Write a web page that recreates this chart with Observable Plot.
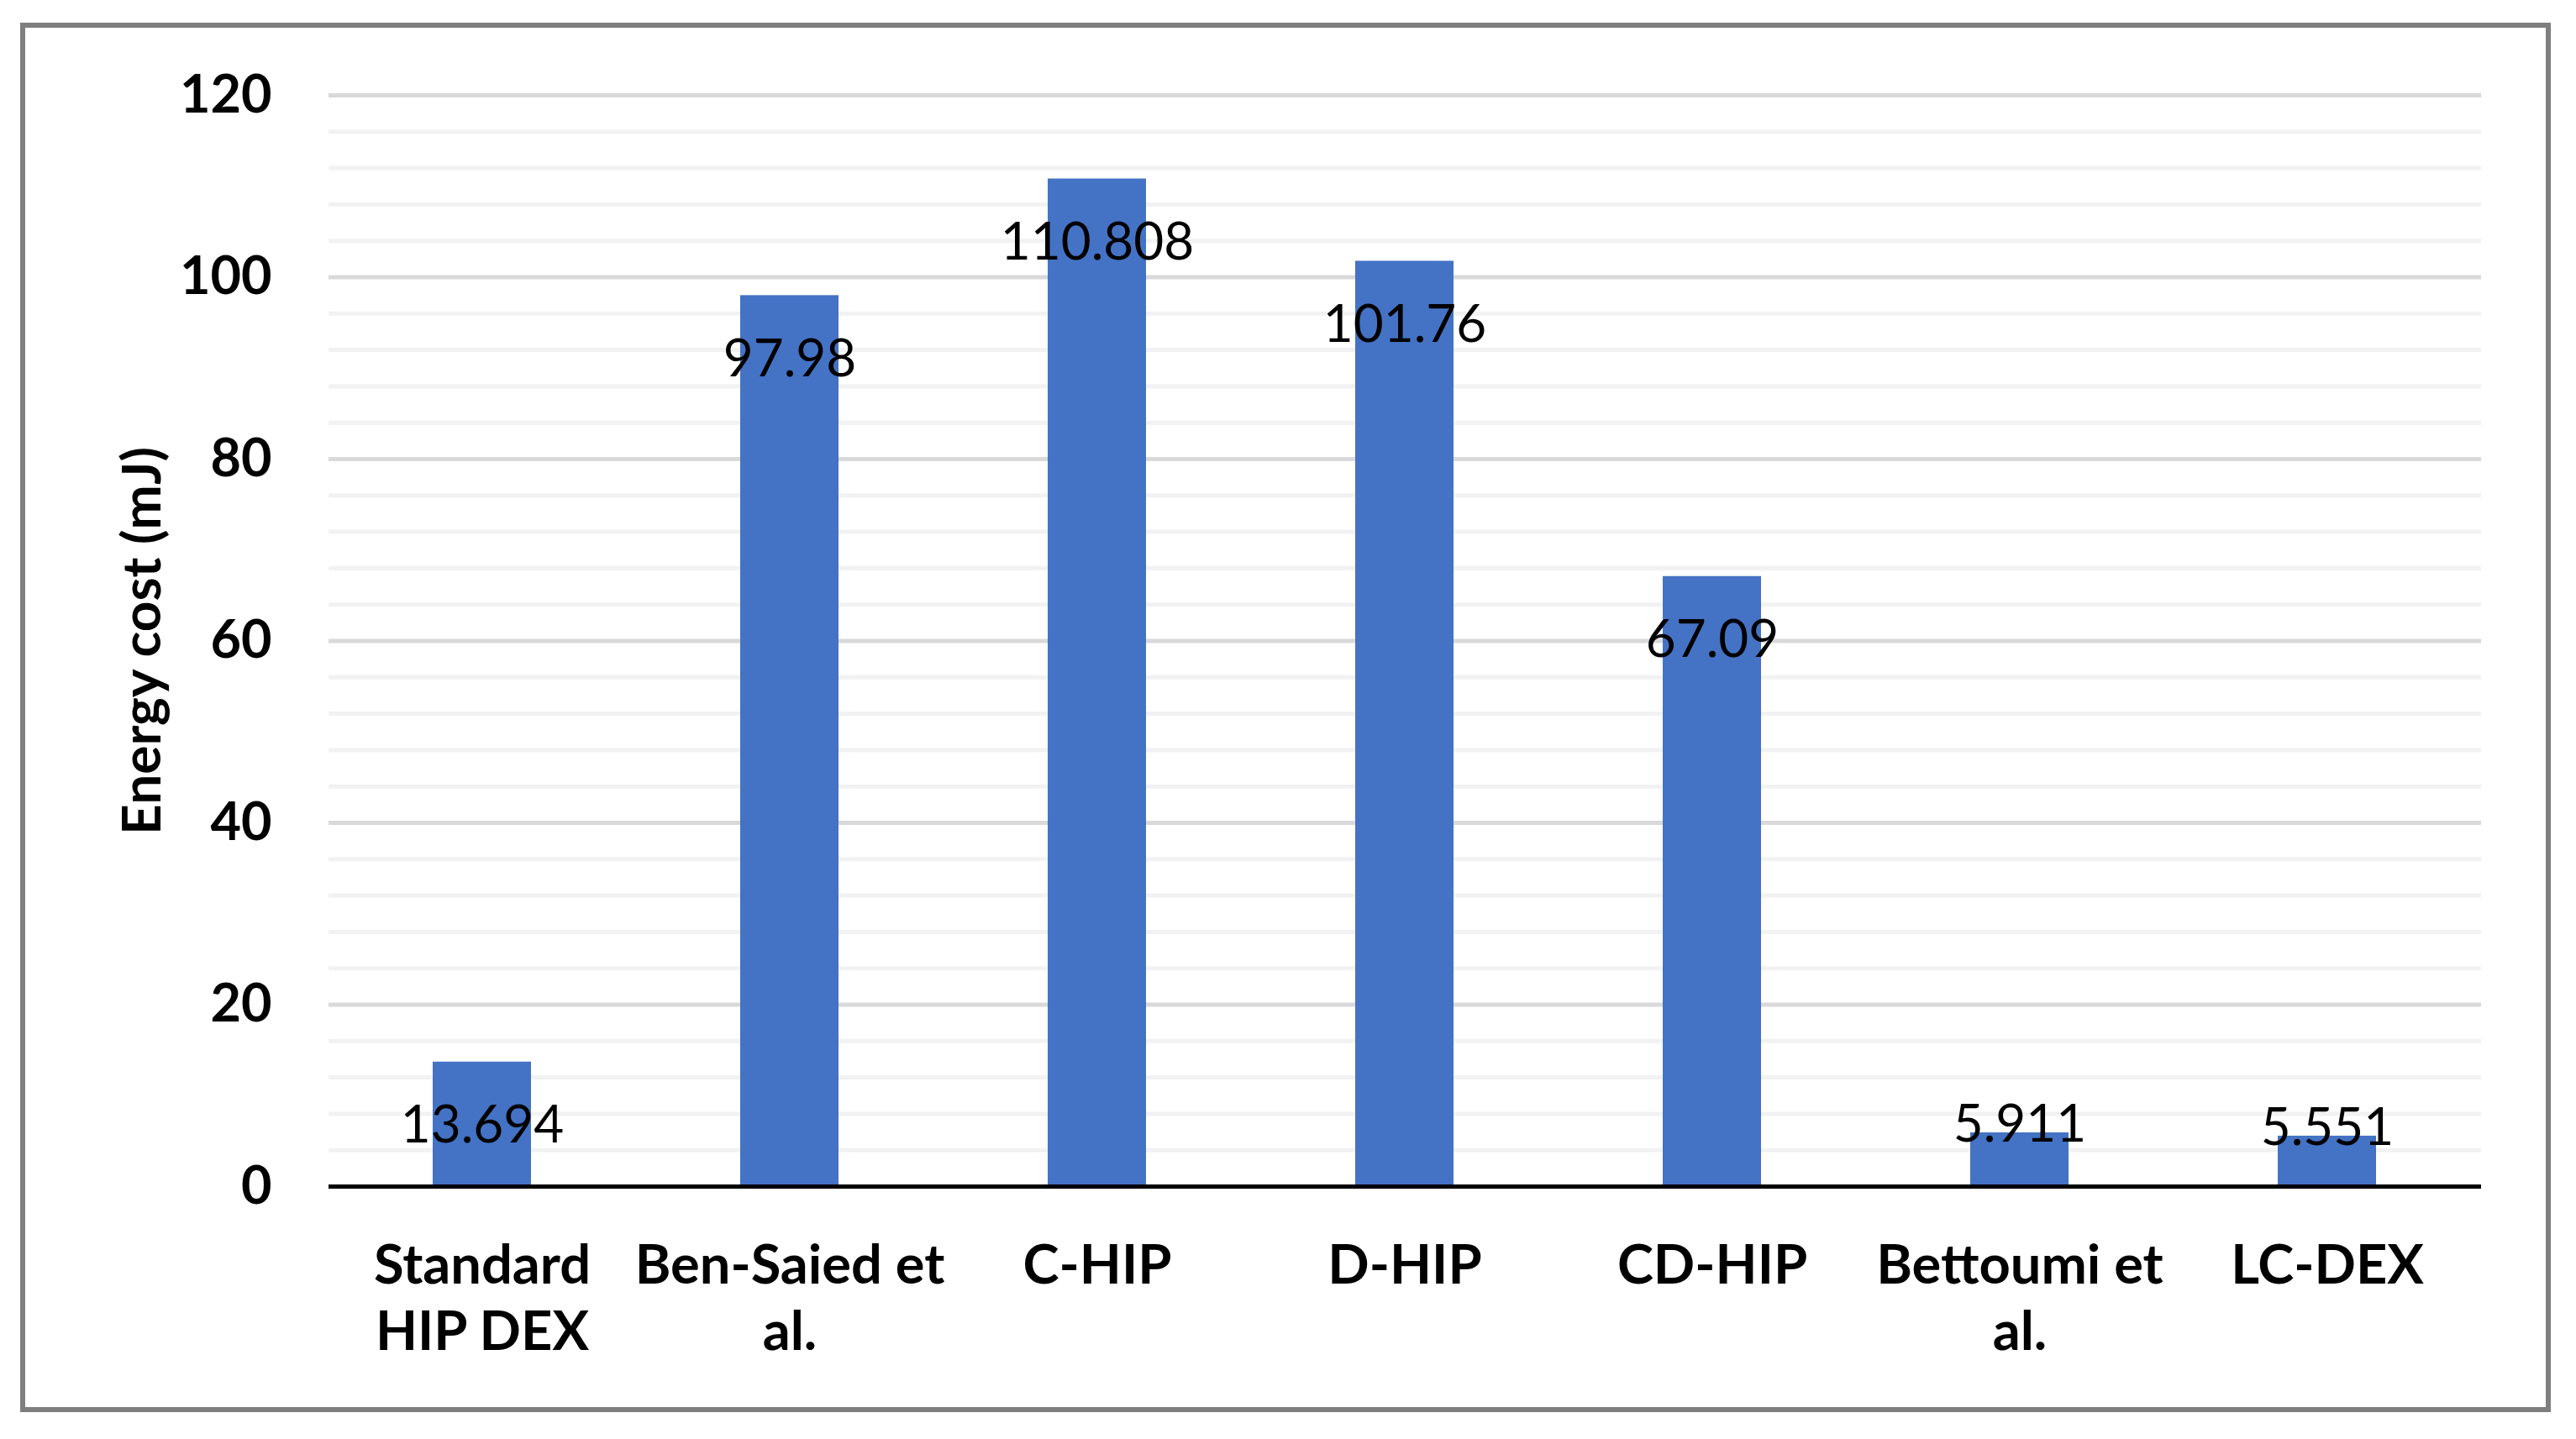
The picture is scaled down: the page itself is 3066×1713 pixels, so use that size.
<!DOCTYPE html>
<html>
<head>
<meta charset="utf-8">
<script src="https://cdn.jsdelivr.net/npm/d3@7"></script>
<script src="https://cdn.jsdelivr.net/npm/@observablehq/plot@0.6"></script>
<style>
  html, body { margin: 0; padding: 0; background: #fff; }
  #frame {
    position: absolute; left: 24px; top: 27px;
    width: 3000px; height: 1642px;
    border: 6px solid #7f7f7f; background: #fff;
  }
  #frame svg { display: block; }
</style>
</head>
<body>
<div id="frame"></div>
<script>
const categories = ["Standard\nHIP DEX", "Ben-Saied et\nal.", "C-HIP", "D-HIP", "CD-HIP", "Bettoumi et\nal.", "LC-DEX"];
const values = [13.694, 97.98, 110.808, 101.76, 67.09, 5.911, 5.551];
const valueLabels = ["13.694", "97.98", "110.808", "101.76", "67.09", "5.911", "5.551"];
const majorTicks = [0, 20, 40, 60, 80, 100, 120];
const minorTicks = [4, 8, 12, 16, 24, 28, 32, 36, 44, 48, 52, 56, 64, 68, 72, 76, 84, 88, 92, 96, 104, 108, 112, 116];
const yTitle = "Energy cost (mJ)";

const data = categories.map((c, i) => ({name: c, value: values[i], label: valueLabels[i]}));
const FONT = "Lato, 'Open Sans', sans-serif";

const chart = Plot.plot({
  width: 3000,
  height: 1642,
  marginLeft: 361,
  marginRight: 77,
  marginTop: 80,
  marginBottom: 263,
  style: {fontFamily: FONT, color: "#000", background: "#fff"},
  x: {domain: categories, paddingInner: 0.68, paddingOuter: 0.34, label: null},
  y: {domain: [0, 120], label: null},
  marks: [
    Plot.ruleY(minorTicks, {stroke: "#f2f2f2", strokeWidth: 5}),
    Plot.ruleY(majorTicks.filter(d => d > 0), {stroke: "#d9d9d9", strokeWidth: 5}),
    Plot.barY(data, {x: "name", y: "value", fill: "#4472c4"}),
    Plot.ruleY([0], {stroke: "#000", strokeWidth: 5}),
    Plot.text(data.filter(d => d.value >= 10), {x: "name", y: "value", text: "label", dy: 76, fontSize: 62, fill: "#000", lineAnchor: "middle"}),
    Plot.text(data.filter(d => d.value < 10), {x: "name", y: "value", text: "label", dy: -9, fontSize: 62, fill: "#000", lineAnchor: "middle"}),
    Plot.axisY(majorTicks, {tickSize: 0, tickPadding: 68, fontSize: 63, fontWeight: "bold", label: null, fill: "#000"}),
    Plot.axisX({tickSize: 0, tickPadding: 60, fontSize: 65, fontWeight: "bold", lineHeight: 1.21, label: null, fill: "#000"}),
    Plot.text([yTitle], {frameAnchor: "left", textAnchor: "middle", rotate: -90, dx: -221, fontSize: 64, fontWeight: "bold", fill: "#000"})
  ]
});
document.getElementById("frame").appendChild(chart);
</script>
</body>
</html>
